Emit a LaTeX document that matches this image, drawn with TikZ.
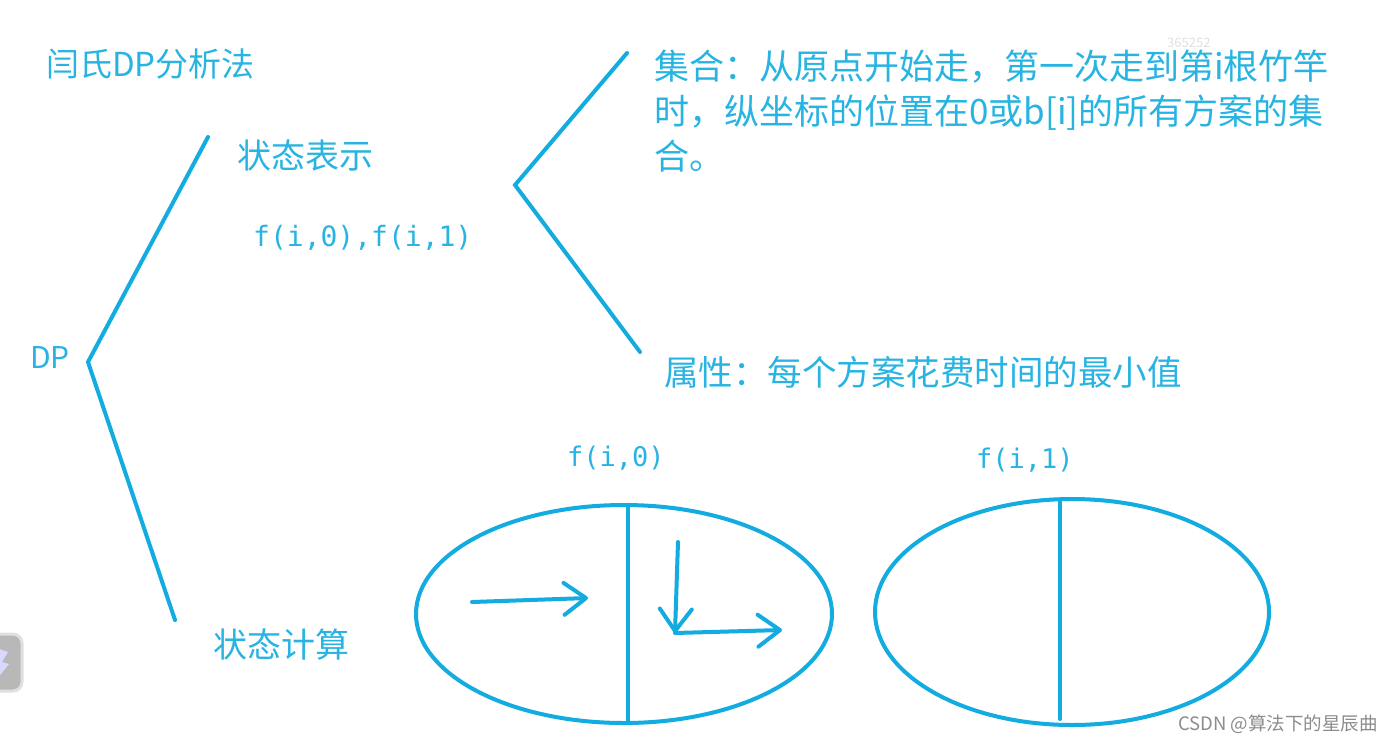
\documentclass[tikz,border=0pt]{standalone}
\usepackage{fontspec}
\setmainfont{Noto Sans CJK SC}
\newfontfamily\monof{DejaVu Sans Mono}
\usetikzlibrary{arrows.meta,shapes.geometric}
\definecolor{tblue}{RGB}{40,180,226}
\definecolor{lblue}{RGB}{18,172,224}
\begin{document}
\begin{tikzpicture}[x=1pt,y=-1pt,
  txt/.style={text=tblue, inner sep=0pt, anchor=west},
  big/.style={txt, font=\fontsize{34}{40}\selectfont},
  mono/.style={txt, font=\monof\fontsize{28}{32}\selectfont},
  ln/.style={draw=lblue, line width=4pt, line cap=round},
  arr/.style={ln, -{Straight Barb[length=22pt,width=32pt,round]}},
  oval/.style={ellipse, draw=lblue, line width=4pt, inner sep=0pt}
]
\useasboundingbox (0,0) rectangle (1392,745);
\fill[white] (0,0) rectangle (1392,745);

% titles and texts
\node[big, font=\fontsize{33}{40}\selectfont] (title) at (46,64) {闫氏DP分析法};
\node[big, font=\fontsize{30}{36}\selectfont] (dp) at (30,357) {DP};
\node[big] (repr) at (237,155) {状态表示};
\node[mono] (fpair) at (253,238) {f(i,0),f(i,1)};
\node[big] (calc) at (213,645) {状态计算};
\node[txt, anchor=north west, align=left, font=\fontsize{35}{45}\selectfont] (set) at (654,50)
  {集合：从原点开始走，第一次走到第i根竹竿\\时，纵坐标的位置在0或b[i]的所有方案的集\\合。};
\node[big, font=\fontsize{34.5}{40}\selectfont] (attr) at (664,372) {属性：每个方案花费时间的最小值};
\node[txt, text=black!12, font=\fontsize{13}{14}\selectfont] (num) at (1167,43) {365252};

% tree connectors
\coordinate (dpj) at (88,362);
\coordinate (reprt) at (208,137);
\coordinate (calct) at (175,620);
\coordinate (sj) at (515,185);
\coordinate (sett) at (627,53);
\coordinate (attrt) at (640,352);
\draw[ln] (reprt) -- (dpj) -- (calct);
\draw[ln] (sett) -- (sj) -- (attrt);

% ellipse f(i,0)
\node[mono, font=\monof\fontsize{27}{32}\selectfont] (f0) at (567,458) {f(i,0)};
\node[oval, minimum width=416pt, minimum height=218pt] (e1) at (624,614) {};
\coordinate (e1t) at (628,506);
\coordinate (e1b) at (628,722);
\draw[ln] (e1t) -- (e1b);
\coordinate (a1s) at (472,602);
\coordinate (a1e) at (588,598);
\draw[arr] (a1s) -- (a1e);
\coordinate (a2s) at (678,542);
\coordinate (a2c) at (675,633);
\coordinate (a2e) at (782,630);
\draw[arr] (a2s) -- (a2c);
\draw[arr] (a2c) -- (a2e);

% ellipse f(i,1)
\node[mono, font=\monof\fontsize{27}{32}\selectfont] (f1) at (976,460) {f(i,1)};
\node[oval, minimum width=394pt, minimum height=226pt] (e2) at (1072,612) {};
\coordinate (e2t) at (1060,500);
\coordinate (e2b) at (1060,719);
\draw[ln] (e2t) -- (e2b);

% watermark
\node[txt, anchor=east, text=black!45, font=\fontsize{18.5}{20}\selectfont] (wm) at (1378,724) {CSDN @算法下的星辰曲};

% partial icon at left edge
\draw[fill=black!28, draw=black!12, line width=3pt, rounded corners=9pt] (-20,634) rectangle (22,691);
\fill[blue!15!white] (-4,648) -- (8,652) -- (2,662) -- (9,664) -- (-4,680) -- cycle;
\end{tikzpicture}
\end{document}
